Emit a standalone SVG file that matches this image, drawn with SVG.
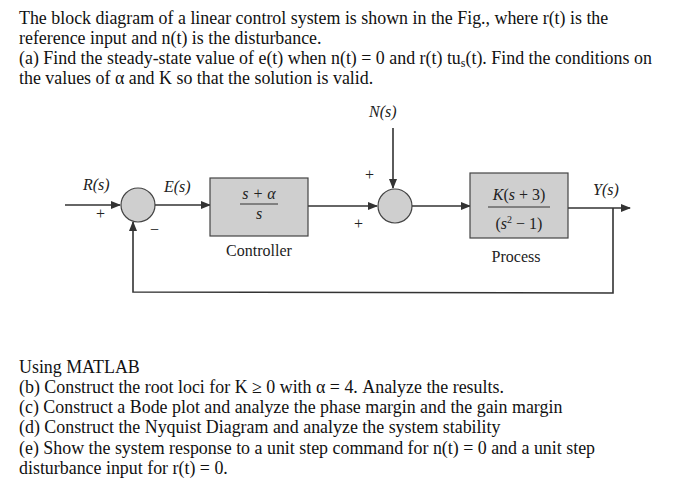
<svg xmlns="http://www.w3.org/2000/svg" width="683" height="486" viewBox="0 0 683 486">
<defs>
<style>
.t{font-family:"Liberation Serif",serif;font-size:17.9px;fill:#111}
.d{font-family:"Liberation Serif",serif;font-size:16px;fill:#222}
.i{font-style:italic}
.l{stroke:#333;stroke-width:1.6;fill:none}
.b{fill:#cfcfcf;stroke:#444;stroke-width:1.2}
</style>
<marker id="a" markerWidth="10" markerHeight="8" refX="9" refY="4" orient="auto" markerUnits="userSpaceOnUse"><path d="M0,0L10,4L0,8z" fill="#333"/></marker>
</defs>
<rect width="683" height="486" fill="#fff"/>
<text class="t" x="19" y="24">The block diagram of a linear control system is shown in the Fig., where r(t) is the</text>
<text class="t" x="19" y="44">reference input and n(t) is the disturbance.</text>
<text class="t" x="19" y="64">(a) Find the steady-state value of e(t) when n(t) = 0 and r(t) tu<tspan font-size="12" dy="3">s</tspan><tspan dy="-3">(t). Find the conditions on</tspan></text>
<text class="t" x="19" y="84">the values of α and K so that the solution is valid.</text>
<g id="connectors">
<line class="l" x1="65" y1="205" x2="120" y2="205" marker-end="url(#a)"/>
<line class="l" x1="155" y1="205" x2="210" y2="205" marker-end="url(#a)"/>
<line class="l" x1="308" y1="206" x2="377" y2="206" marker-end="url(#a)"/>
<line class="l" x1="393" y1="128" x2="393" y2="188" marker-end="url(#a)"/>
<line class="l" x1="412" y1="206" x2="470" y2="206" marker-end="url(#a)"/>
<line class="l" x1="568" y1="208" x2="630" y2="208" marker-end="url(#a)"/>
<polyline class="l" points="613,208 613,293 133,292 133,222" marker-end="url(#a)"/>
</g>
<g id="sum1"><circle class="b" cx="138" cy="205" r="17"/></g>
<g id="controller"><rect class="b" x="210" y="178" width="98" height="58"/>
<text class="d i" x="259" y="199" text-anchor="middle">s + α</text>
<line x1="240" y1="204" x2="278" y2="204" stroke="#333"/>
<text class="d i" x="259" y="219" text-anchor="middle">s</text></g>
<g id="sum2"><circle class="b" cx="395" cy="206" r="17"/></g>
<g id="process"><rect class="b" x="470" y="173" width="98" height="65"/>
<text class="d" x="519" y="200" text-anchor="middle"><tspan class="i">K</tspan>(<tspan class="i">s</tspan> + 3)</text>
<line x1="488" y1="207" x2="550" y2="207" stroke="#333"/>
<text class="d" x="519" y="229" text-anchor="middle">(<tspan class="i">s</tspan><tspan font-size="10" dy="-6">2</tspan><tspan dy="6"> − 1)</tspan></text></g>
<g id="labels">
<text class="d i" x="83" y="190">R(s)</text>
<text class="d i" x="164" y="192">E(s)</text>
<text class="d i" x="369" y="117">N(s)</text>
<text class="d i" x="593" y="195">Y(s)</text>
<text class="d" x="259" y="256" text-anchor="middle">Controller</text>
<text class="d" x="516" y="262" text-anchor="middle">Process</text>
<text class="d" x="96" y="219">+</text>
<text class="d" x="150" y="235">−</text>
<text class="d" x="365" y="180">+</text>
<text class="d" x="354" y="229">+</text>
</g>
<text class="t" x="19" y="373">Using MATLAB</text>
<text class="t" x="19" y="393">(b) Construct the root loci for K ≥ 0 with α = 4. Analyze the results.</text>
<text class="t" x="19" y="413">(c) Construct a Bode plot and analyze the phase margin and the gain margin</text>
<text class="t" x="19" y="433">(d) Construct the Nyquist Diagram and analyze the system stability</text>
<text class="t" x="19" y="454">(e) Show the system response to a unit step command for n(t) = 0 and a unit step</text>
<text class="t" x="19" y="474">disturbance input for r(t) = 0.</text>
</svg>
